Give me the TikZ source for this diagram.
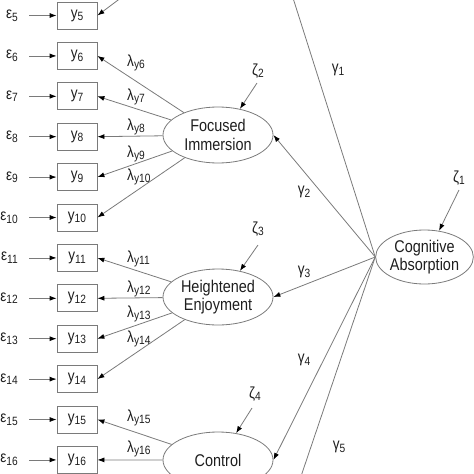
\documentclass[tikz,border=0pt]{standalone}
\usepackage{fontspec}
\setmainfont{Liberation Sans}[FakeStretch=0.85]
\usetikzlibrary{shapes.geometric,arrows.meta}
\definecolor{ln}{HTML}{7A7A7A}
\definecolor{tx}{HTML}{1E1E1E}
\newcommand\sbs[1]{\raisebox{-0.3ex}{\fontsize{12}{12}\selectfont #1}}
\begin{document}
\begin{tikzpicture}[x=1pt,y=-1pt,
  line/.style={draw=ln, line width=0.8pt},
  arr/.style={line, -{Latex[length=7pt,width=5pt,color=black]}},
  obs/.style={draw=ln, line width=0.8pt, minimum width=40pt, minimum height=27pt, inner sep=0pt, font=\fontsize{16}{16}\selectfont, text=tx},
  lat/.style={ellipse, draw=ln, line width=0.8pt, minimum width=110pt, minimum height=56pt, inner sep=0pt, align=center, font=\fontsize{17}{18.5}\selectfont, text=tx},
  lbl/.style={inner sep=0pt, font=\fontsize{16}{16}\selectfont, text=tx},
]
\useasboundingbox (0,0) rectangle (474,474);
\clip (0,0) rectangle (474,474);

% observed indicators and errors
\foreach \i [evaluate=\i as \yy using {15.5+40.4*(\i-5)}] in {5,...,16} {
  \node[obs] (y\i) at (77,\yy) {y\sbs{\i}};
  \node[lbl, anchor=east] (e\i) at (18,\yy) {ε\sbs{\i}};
  \draw[arr, shorten <=11pt] (e\i) -- (y\i);
}

% latent variables
\node[lat] (FI) at (218,135) {Focused\\Immersion};
\node[lat] (HE) at (218,297) {Heightened\\Enjoyment};
\node[lat] (CO) at (218,460) {Control};
\node[lat, minimum width=92pt, minimum height=54pt] (CA) at (424.5,257) {Cognitive\\Absorption};

% loadings
\foreach \i in {6,...,10} { \draw[arr] (FI) -- (y\i.east); }
\foreach \i in {11,...,14} { \draw[arr] (HE) -- (y\i.east); }
\foreach \i in {15,16} { \draw[arr] (CO) -- (y\i.east); }

% loading labels
\node[lbl, anchor=west] (l6) at (127,63) {λ\sbs{y6}};
\node[lbl, anchor=west] (l7) at (127,97) {λ\sbs{y7}};
\node[lbl, anchor=west] (l8) at (127,127) {λ\sbs{y8}};
\node[lbl, anchor=west] (l9) at (127,154) {λ\sbs{y9}};
\node[lbl, anchor=west] (l10) at (127,177) {λ\sbs{y10}};
\node[lbl, anchor=west] (l11) at (127,259) {λ\sbs{y11}};
\node[lbl, anchor=west] (l12) at (127,289) {λ\sbs{y12}};
\node[lbl, anchor=west] (l13) at (127,314) {λ\sbs{y13}};
\node[lbl, anchor=west] (l14) at (127,339) {λ\sbs{y14}};
\node[lbl, anchor=west] (l15) at (127,418) {λ\sbs{y15}};
\node[lbl, anchor=west] (l16) at (127,449) {λ\sbs{y16}};

% line from a latent variable above the frame into y5
\coordinate (t5) at (131.5,-10);
\draw[arr] (t5) -- (y5.east);

% disturbances
\node[lbl] (z2) at (258,71) {ζ\sbs{2}};
\node[lbl] (z3) at (258,229) {ζ\sbs{3}};
\node[lbl] (z4) at (255,394) {ζ\sbs{4}};
\node[lbl] (z1) at (459,178) {ζ\sbs{1}};
\coordinate (z2s) at (257,83);
\coordinate (z3s) at (258,245);
\coordinate (z4s) at (252,408);
\coordinate (z1s) at (459,190);
\draw[arr] (z2s) -- (FI.50);
\draw[arr] (z3s) -- (HE.50);
\draw[arr] (z4s) -- (CO.56);
\draw[arr] (z1s) -- (CA.61);

% structural paths
\coordinate (g1e) at (287.3,-20);
\coordinate (g5e) at (295,494);
\draw[line] (CA.west) -- (g1e);
\draw[arr] (CA.west) -- (FI.east);
\draw[arr] (CA.west) -- (HE.east);
\draw[arr] (CA.west) -- (CO.east);
\draw[line] (CA.west) -- (g5e);

\node[lbl] (g1) at (338,70) {γ\sbs{1}};
\node[lbl] (g2) at (304,192) {γ\sbs{2}};
\node[lbl] (g3) at (304,272) {γ\sbs{3}};
\node[lbl] (g4) at (304,360) {γ\sbs{4}};
\node[lbl] (g5) at (339,447) {γ\sbs{5}};
\end{tikzpicture}
\end{document}
